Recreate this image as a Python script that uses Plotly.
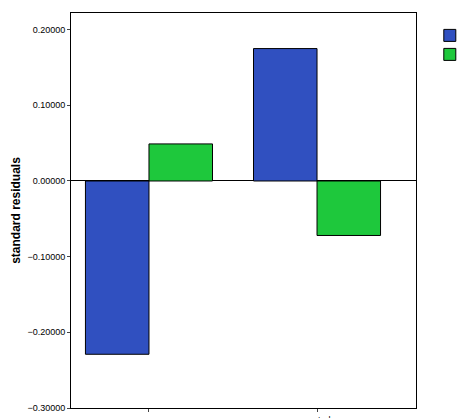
import plotly.graph_objects as go

categories = ["case", "control"]
ser_ser = [-0.229, 0.175]
pro_car = [0.049, -0.072]

xpos = list(range(len(categories)))
fig = go.Figure()
fig.add_trace(go.Bar(x=xpos, y=ser_ser, name="Ser/Ser", marker=dict(color="#3050C0", line=dict(color="black", width=1))))
fig.add_trace(go.Bar(x=xpos, y=pro_car, name="Pro car", marker=dict(color="#1EC83C", line=dict(color="black", width=1))))

fig.update_layout(
    width=474, height=418, barmode="group", bargap=0.244, bargroupgap=0,
    paper_bgcolor="white", plot_bgcolor="white",
    margin=dict(l=63, r=66, t=5, b=18, autoexpand=False),
    font=dict(family="Arial, Liberation Sans", size=9, color="black"),
    legend=dict(x=1.04, y=0.98, xanchor="left", yanchor="top", font=dict(size=9),
                itemwidth=30, tracegroupgap=0),
    xaxis=dict(tickvals=xpos, ticktext=categories, range=[-0.464, 1.589],
               showline=True, linecolor="black", mirror=True, ticks="outside",
               ticklen=3, showgrid=False, zeroline=False, automargin=False),
    yaxis=dict(range=[-0.3, 0.222], dtick=0.1, tickformat=".5f", automargin=False,
               showline=True, linecolor="black", mirror=True, ticks="outside",
               ticklen=3, showgrid=False, zeroline=True, zerolinecolor="black", zerolinewidth=1,
               title=dict(text="<b>standard residuals</b>", font=dict(size=12), standoff=4)),
)
fig.write_html("out.html")
